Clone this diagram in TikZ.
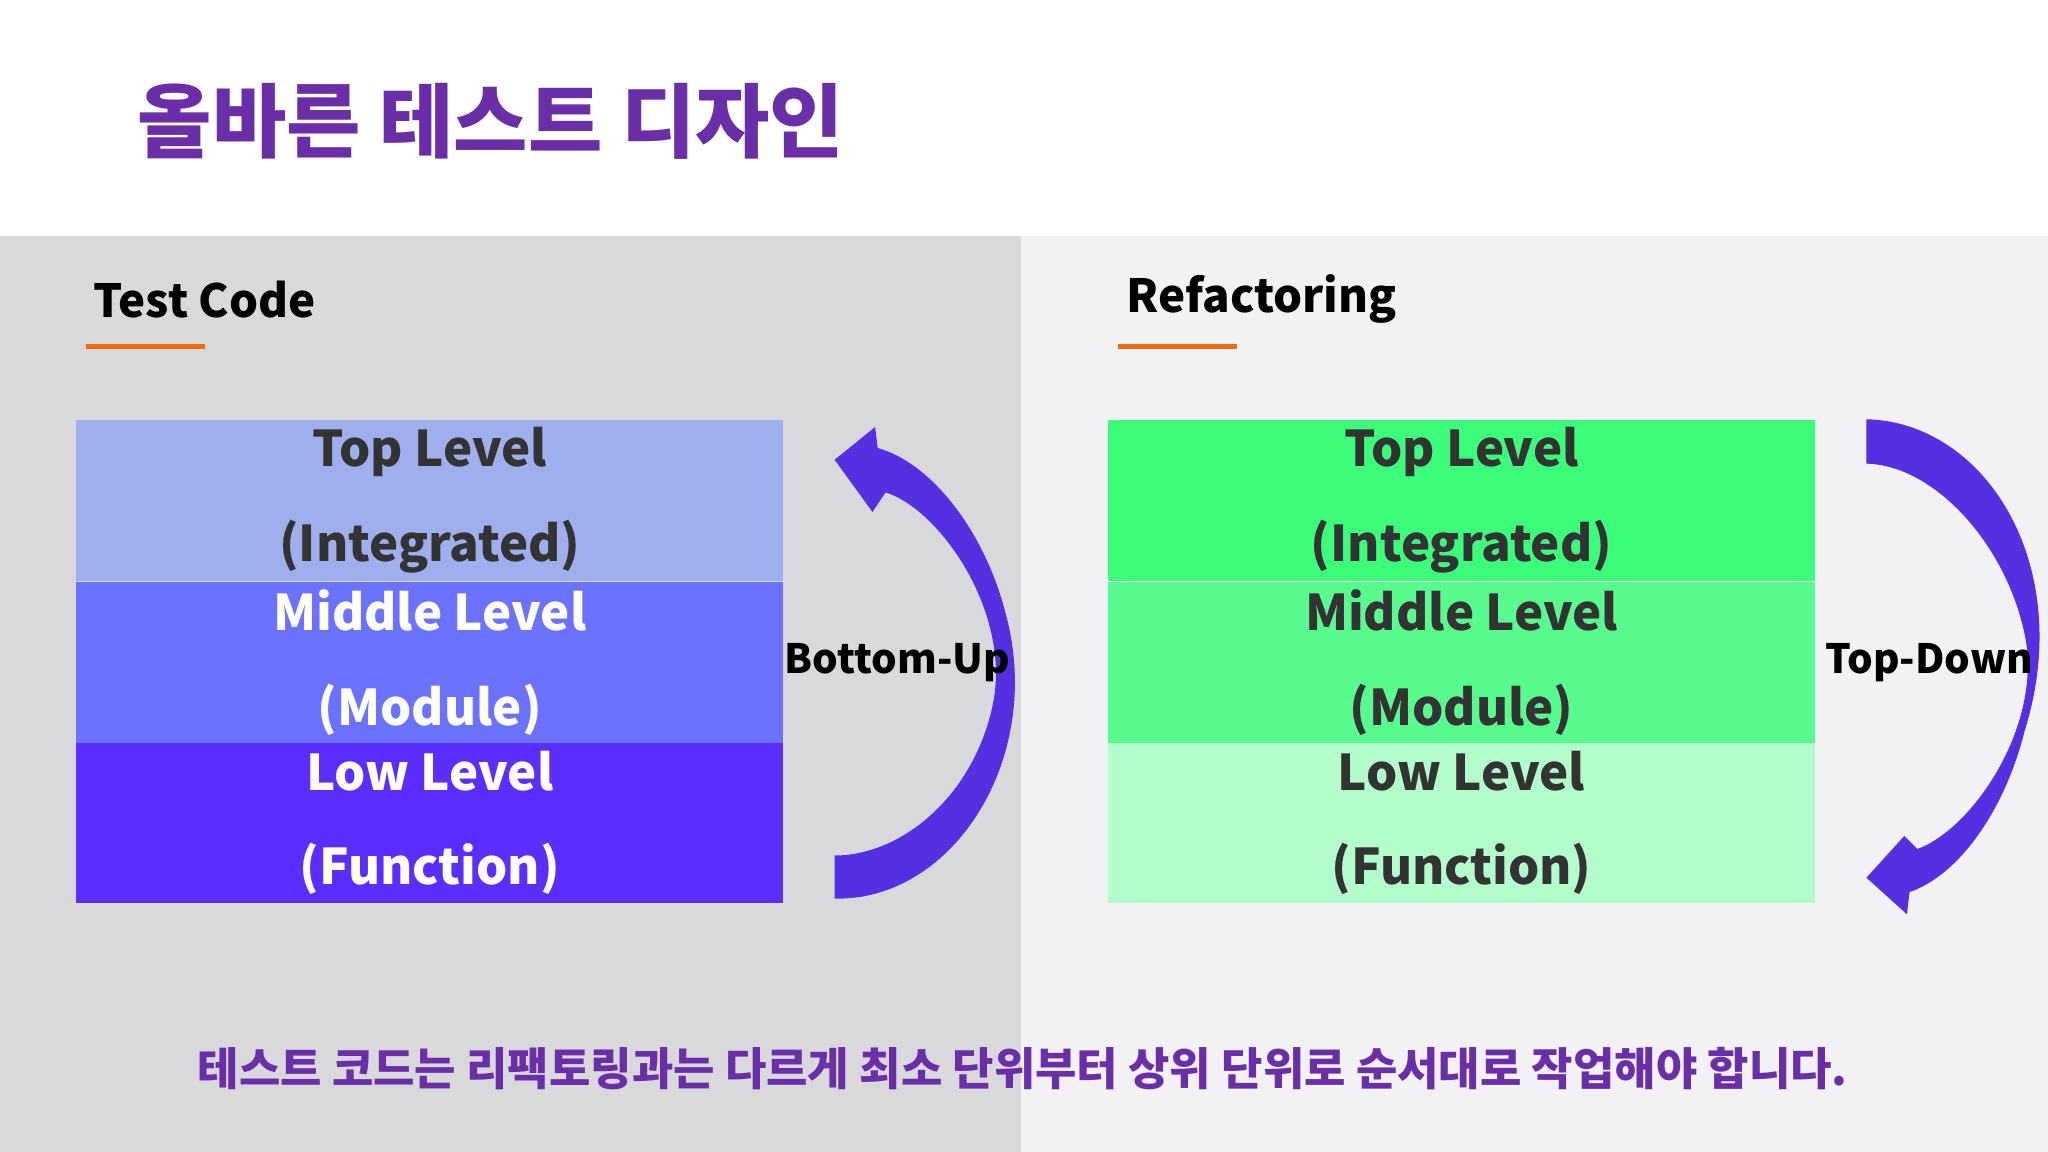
\documentclass[tikz,border=0pt]{standalone}
\usepackage{fontspec}
\setmainfont{Noto Sans CJK KR}
\definecolor{ttl}{HTML}{6A2FA8}
\definecolor{lgrey}{HTML}{D9D8DB}
\definecolor{rgrey}{HTML}{F2F1F4}
\definecolor{ora}{HTML}{F06A10}
\definecolor{la}{HTML}{9FAEEC}
\definecolor{lb}{HTML}{6A72FF}
\definecolor{lc}{HTML}{5B2DFF}
\definecolor{ra}{HTML}{3BFD7A}
\definecolor{rb}{HTML}{58FB8E}
\definecolor{rc}{HTML}{B2FDCB}
\definecolor{arr}{HTML}{5530E0}
\definecolor{dtx}{HTML}{333333}
\begin{document}
\begin{tikzpicture}[x=0.01306cm,y=-0.01306cm,
  lvl/.style={minimum width=541*0.01306cm,minimum height=123*0.01306cm,inner sep=0,anchor=north west,align=center,font=\fontsize{14}{27}\selectfont\bfseries},
  head/.style={anchor=west,font=\fontsize{13}{15}\selectfont\bfseries},
  dir/.style={font=\fontsize{11.5}{14}\selectfont\bfseries}]
\useasboundingbox (0,0) rectangle (1568,882);
\fill[white] (0,0) rectangle (1568,181);
\fill[lgrey] (0,181) rectangle (782,882);
\fill[rgrey] (782,181) rectangle (1568,882);
\node[anchor=west,text=ttl,font=\fontsize{23}{26}\selectfont\bfseries] (title) at (96,93) {올바른 테스트 디자인};
\node[head] (tc) at (62,229) {Test Code};
\draw[ora,line width=0.05cm] (66,265) -- (157,265);
\node[head] (rf) at (853,229) {Refactoring};
\draw[ora,line width=0.05cm] (856,265) -- (947,265);
% left stack
\node[lvl,fill=la,text=dtx] (l1) at (58,321) {Top Level\\(Integrated)};
\node[lvl,fill=lb,text=white] (l2) at (58,445) {Middle Level\\(Module)};
\node[lvl,fill=lc,text=white] (l3) at (58,568) {Low Level\\(Function)};
% right stack
\node[lvl,fill=ra,text=dtx] (r1) at (848,321) {Top Level\\(Integrated)};
\node[lvl,fill=rb,text=dtx] (r2) at (848,445) {Middle Level\\(Module)};
\node[lvl,fill=rc,text=dtx] (r3) at (848,568) {Low Level\\(Function)};
% arrows
\fill[arr] (639,688) .. controls (730,690) and (800,580) .. (770,470)
  .. controls (755,410) and (715,355) .. (672,343) -- (670,327) -- (639,352) -- (668,392) -- (678,377)
  .. controls (720,390) and (775,470) .. (760,540)
  .. controls (745,610) and (690,655) .. (639,655) -- cycle;
\fill[arr] (1429,321) .. controls (1520,323) and (1590,433) .. (1550,560)
  .. controls (1535,620) and (1500,670) .. (1462,683) -- (1460,700) -- (1429,672) -- (1458,640) -- (1468,650)
  .. controls (1510,635) and (1565,555) .. (1550,485)
  .. controls (1535,415) and (1480,356) .. (1429,355) -- cycle;
\node[dir] (bu) at (687,507) {Bottom-Up};
\node[dir] (td) at (1477,507) {Top-Down};
\node[text=ttl,font=\fontsize{12.8}{15}\selectfont\bfseries] (cap) at (783,818) {테스트 코드는 리팩토링과는 다르게 최소 단위부터 상위 단위로 순서대로 작업해야 합니다.};
\end{tikzpicture}
\end{document}
